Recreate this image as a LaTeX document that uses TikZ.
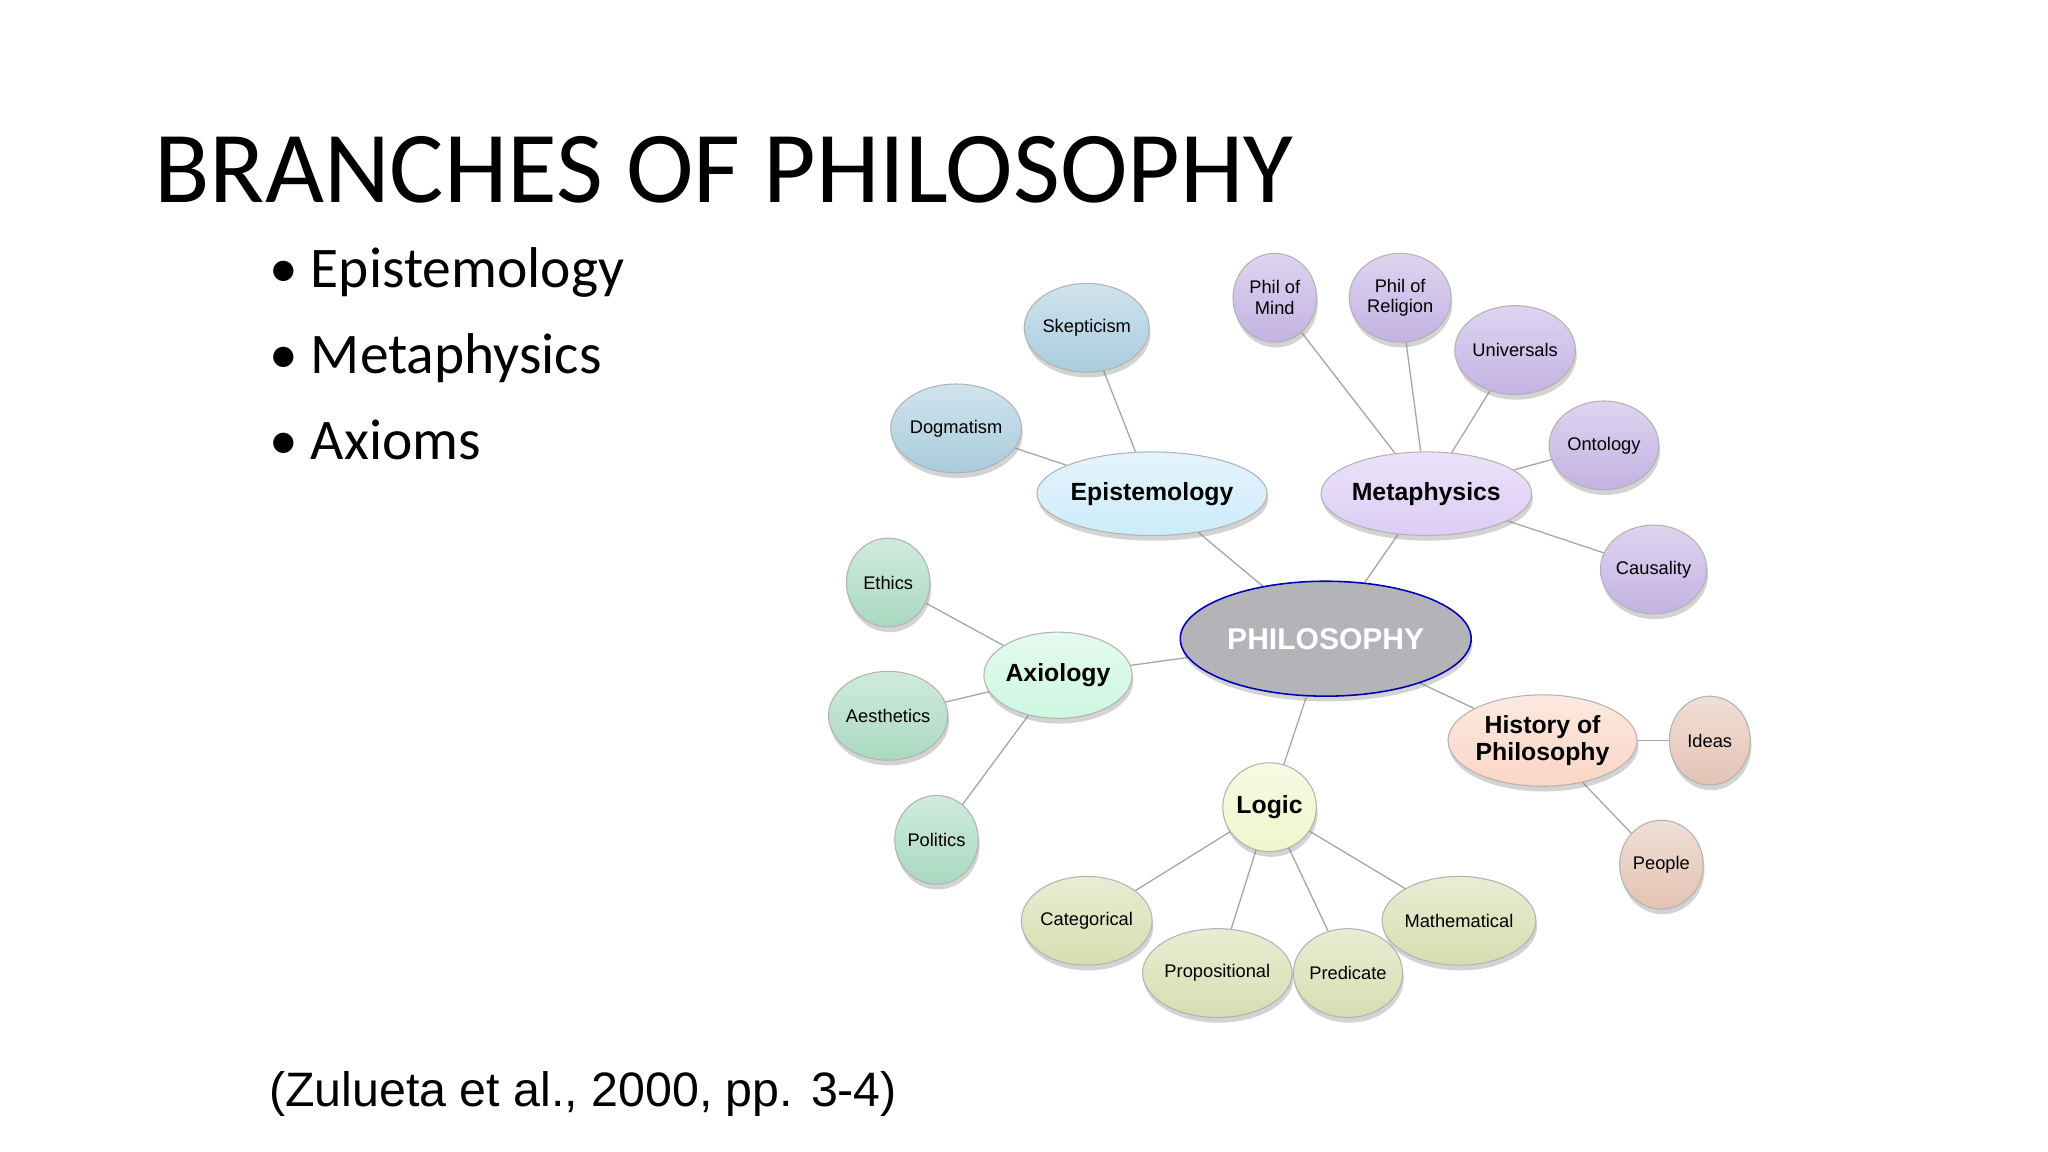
\documentclass[tikz,border=0pt]{standalone}
\usepackage{fontspec}
\setmainfont{Liberation Sans}
\newfontfamily\calfont{Carlito}
\usetikzlibrary{shadows,backgrounds,shapes.geometric}
\definecolor{epi}{HTML}{CDEBFA}\definecolor{epil}{HTML}{A9CCDD}
\definecolor{met}{HTML}{DCCCF5}\definecolor{metl}{HTML}{C3B2E3}
\definecolor{axi}{HTML}{CDF7E0}\definecolor{axil}{HTML}{A9D9C0}
\definecolor{his}{HTML}{FAD6C6}\definecolor{hisl}{HTML}{E3C3B3}
\definecolor{log}{HTML}{EEF7CC}\definecolor{logl}{HTML}{D5DEB0}
\definecolor{phi}{HTML}{B4B4B8}
\tikzset{
 bub/.style={ellipse,draw=gray!60,line width=0.8pt,align=center,font=\fontsize{14}{16}\selectfont,
   drop shadow={shadow xshift=1pt,shadow yshift=-4pt,opacity=0.35},inner sep=0pt,
   top color=#1!55!white,bottom color=#1},
 mainb/.style={bub=#1,font=\fontsize{19}{21}\selectfont\bfseries},
 lnk/.style={draw=gray!70,line width=1pt}
}
\newcommand\leaf[5]{\node[bub=#2,minimum width=#5*2pt,minimum height=68pt] (#1) at #3 {#4};}
\begin{document}
\begin{tikzpicture}[x=1pt,y=-1pt]
\useasboundingbox (0,0) rectangle (1568,882);
\node[anchor=base west,inner sep=0,font=\calfont\fontsize{78}{80}\selectfont] (t) at (118,155) {BRANCHES OF PHILOSOPHY};
\node[anchor=base west,inner sep=0,font=\calfont\fontsize{44}{46}\selectfont] (b1) at (206,220) {• Epistemology};
\node[anchor=base west,inner sep=0,font=\calfont\fontsize{44}{46}\selectfont] (b2) at (206,286) {• Metaphysics};
\node[anchor=base west,inner sep=0,font=\calfont\fontsize{44}{46}\selectfont] (b3) at (206,352) {• Axioms};
\node[anchor=base west,inner sep=0,font=\fontsize{37}{40}\selectfont] (c) at (206,847) {(Zulueta et al., 2000, pp. 3-4)};
\leaf{sk}{epil}{(832,251)}{Skepticism}{47}
\leaf{dg}{epil}{(732,328)}{Dogmatism}{47}
\leaf{pm}{metl}{(976,228)}{Phil of\\Mind}{32}
\leaf{pr}{metl}{(1072,228)}{Phil of\\Religion}{39}
\leaf{un}{metl}{(1160,268)}{Universals}{43}
\leaf{on}{metl}{(1228,341)}{Ontology}{42}
\leaf{ca}{metl}{(1266,436)}{Causality}{39}
\leaf{et}{axil}{(680,446)}{Ethics}{32}
\leaf{ae}{axil}{(680,548)}{Aesthetics}{43}
\leaf{po}{axil}{(717,643)}{Politics}{32}
\leaf{id}{hisl}{(1309,567)}{Ideas}{31}
\leaf{pe}{hisl}{(1272,662)}{People}{32}
\leaf{cat}{logl}{(832,705)}{Categorical}{48}
\leaf{pro}{logl}{(932,745)}{Propositional}{54}
\leaf{pre}{logl}{(1032,745)}{Predicate}{39}
\leaf{mat}{logl}{(1117,705)}{Mathematical}{54}
\node[mainb=epi,minimum width=150pt,minimum height=64pt] (E) at (882,378) {Epistemology};
\node[mainb=met,minimum width=136pt,minimum height=64pt] (M) at (1092,378) {Metaphysics};
\node[mainb=axi,minimum width=100pt,minimum height=66pt] (A) at (810,517) {Axiology};
\node[mainb=his,minimum width=126pt,minimum height=70pt] (H) at (1181,567) {History of\\Philosophy};
\node[mainb=log,minimum width=64pt,minimum height=68pt] (L) at (972,618) {Logic};
\node[ellipse,draw=blue!70!black,line width=1.2pt,fill=phi,minimum width=200pt,minimum height=88pt,
  text=white,font=\fontsize{23}{25}\selectfont\bfseries,drop shadow={shadow xshift=1pt,shadow yshift=-4pt,opacity=0.35}] (P) at (1015,489) {PHILOSOPHY};
\begin{scope}[on background layer]
\foreach \a/\b in {P/E,P/M,P/A,P/H,P/L,E/sk,E/dg,M/pm,M/pr,M/un,M/on,M/ca,A/et,A/ae,A/po,H/id,H/pe,L/cat,L/pro,L/pre,L/mat}
 \path[lnk] (\a) -- (\b);
\end{scope}
\end{tikzpicture}
\end{document}
